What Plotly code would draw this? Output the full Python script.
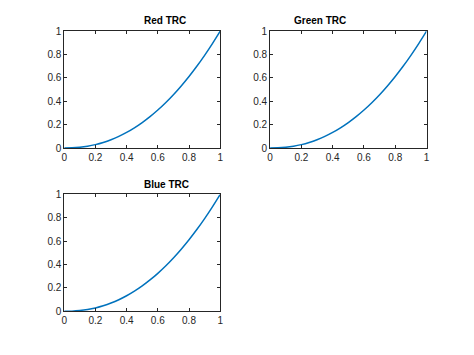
import plotly.graph_objects as go

# Data
x_vals = [0.0, 0.05, 0.1, 0.15, 0.2, 0.25, 0.3, 0.35, 0.4, 0.45, 0.5,
          0.55, 0.6, 0.65, 0.7, 0.75, 0.8, 0.85, 0.9, 0.95, 1.0]
red_trc = [0.0, 0.0014, 0.0063, 0.0154, 0.029, 0.0474, 0.0707, 0.0993, 0.1332, 0.1726, 0.2176,
           0.2683, 0.325, 0.3877, 0.4563, 0.5313, 0.6121, 0.6993, 0.7932, 0.8933, 1.0]
green_trc = [0.0, 0.0014, 0.0063, 0.0154, 0.029, 0.0474, 0.0707, 0.0993, 0.1332, 0.1726, 0.2176,
             0.2683, 0.325, 0.3877, 0.4563, 0.5313, 0.6121, 0.6993, 0.7932, 0.8933, 1.0]
blue_trc = [0.0, 0.0014, 0.0063, 0.0154, 0.029, 0.0474, 0.0707, 0.0993, 0.1332, 0.1726, 0.2176,
            0.2683, 0.325, 0.3877, 0.4563, 0.5313, 0.6121, 0.6993, 0.7932, 0.8933, 1.0]
titles = ["Red TRC", "Green TRC", "Blue TRC"]
tick_vals = [0, 0.2, 0.4, 0.6, 0.8, 1]
tick_text = ["0", "0.2", "0.4", "0.6", "0.8", "1"]

W, H = 474, 355
panels = [
    (62, 220, 26, 147),
    (270.5, 429, 26, 147),
    (62, 220, 195, 316),
]
series = [red_trc, green_trc, blue_trc]


def px_x(p):
    return p / W


def px_y(p):
    return 1 - p / H


fig = go.Figure()
font_family = "Liberation Sans, Arial, sans-serif"
for i, ((x0, x1, y0, y1), ys, title) in enumerate(zip(panels, series, titles)):
    n = "" if i == 0 else str(i + 1)
    fig.add_trace(go.Scatter(x=x_vals, y=ys, mode="lines",
                             line=dict(color="#0072BD", width=1.5, shape="spline"),
                             xaxis="x" + n, yaxis="y" + n, showlegend=False,
                             hoverinfo="skip"))
    axstyle = dict(range=[0, 1], tickvals=tick_vals, ticktext=tick_text,
                   ticks="inside", ticklen=3, tickwidth=0.8, tickcolor="#262626",
                   showline=True, linecolor="#262626", linewidth=0.8, mirror="ticks",
                   showgrid=False, zeroline=False,
                   tickfont=dict(family=font_family, size=10, color="#262626"),
                   fixedrange=True)
    fig.update_layout(**{
        "xaxis" + n: dict(domain=[px_x(x0), px_x(x1)], anchor="y" + n, **axstyle),
        "yaxis" + n: dict(domain=[px_y(y1), px_y(y0)], anchor="x" + n, **axstyle),
    })
    fig.add_annotation(x=px_x((x0 + x1) / 2), y=px_y(y0 - 3), xref="paper", yref="paper",
                       text="<b>" + title + "</b>", showarrow=False, yanchor="bottom",
                       font=dict(family=font_family, size=10, color="black"))

fig.update_layout(width=W, height=H, margin=dict(l=0, r=0, t=0, b=0),
                  paper_bgcolor="white", plot_bgcolor="white")
fig.write_html("out.html", config={"displayModeBar": False},
               post_script="document.body.style.margin='0';document.body.style.overflow='hidden';")
